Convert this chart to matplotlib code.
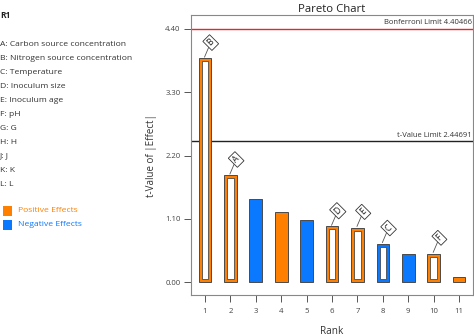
import matplotlib
matplotlib.use("Agg")
import matplotlib.pyplot as plt
from matplotlib.patches import Rectangle

plt.rcParams['font.family'] = ['Open Sans', 'DejaVu Sans']

ranks = [1, 2, 3, 4, 5, 6, 7, 8, 9, 10, 11]
t_values = [3.89, 1.86, 1.44, 1.23, 1.09, 0.97, 0.95, 0.67, 0.50, 0.50, 0.087]
positive = [True, True, False, True, False, True, True, False, False, True, True]
hollow = [True, True, False, False, False, True, True, True, False, True, False]
bar_labels = ['B', 'A', '', '', '', 'D', 'E', 'C', '', 'F', '']
bonferroni = 4.40466
t_limit = 2.44691
yticks = [0.00, 1.10, 2.20, 3.30, 4.40]
factor_lines = ["A: Carbon source concentration", "B: Nitrogen source concentration",
                "C: Temperature", "D: Inoculum size", "E: Inoculum age", "F: pH",
                "G: G", "H: H", "J: J", "K: K", "L: L"]

ORANGE = '#FF8000'
BLUE = '#0A78FF'
EDGE = '#4a4a4a'

fig = plt.figure(figsize=(4.74, 3.36), dpi=100)
ax = fig.add_axes([0.403, 0.122, 0.595, 0.833])

ax.set_xlim(0.45, 11.55)
ax.set_ylim(-0.22, 4.64)

width = 0.5
dx, dy = 0.12, 0.052
for r, v, pos, h, lab in zip(ranks, t_values, positive, hollow, bar_labels):
    col = ORANGE if pos else BLUE
    ax.add_patch(Rectangle((r - width / 2, 0), width, v, facecolor=col,
                           edgecolor=EDGE, linewidth=0.7, zorder=3))
    if h:
        ax.add_patch(Rectangle((r - width / 2 + dx, dy), width - 2 * dx, v - 2 * dy,
                               facecolor='white', edgecolor=EDGE, linewidth=0.6, zorder=4))
    if lab:
        ax.annotate(lab, xy=(r - 0.02, v + 0.02), xytext=(4.5, 10.5), textcoords='offset points',
                    ha='center', va='center', rotation=45, fontsize=6.3, color='#222222',
                    bbox=dict(boxstyle='square,pad=0.22', facecolor='white',
                              edgecolor='#333333', linewidth=0.6),
                    arrowprops=dict(arrowstyle='-', color='#555555', linewidth=0.6,
                                    shrinkA=0, shrinkB=0), zorder=5)

ax.axhline(bonferroni, color='#E8262A', linewidth=1.0, zorder=2)
ax.axhline(t_limit, color='#222222', linewidth=1.0, zorder=2)
ax.text(11.5, bonferroni + 0.05, f"Bonferroni Limit {bonferroni}", ha='right', va='bottom',
        fontsize=5.5, color='#333333')
ax.text(11.5, t_limit + 0.05, f"t-Value Limit {t_limit}", ha='right', va='bottom',
        fontsize=5.5, color='#333333')

ax.set_xticks(ranks)
ax.set_xticklabels([str(r) for r in ranks])
ax.set_yticks(yticks)
ax.set_yticklabels([f"{y:.2f}" for y in yticks])
ax.tick_params(axis='both', colors='#555555', labelcolor='#444444', labelsize=5.6,
               length=5, width=0.7, direction='out')
ax.tick_params(axis='x', pad=4)
ax.tick_params(axis='y', pad=2.5)
for s in ax.spines.values():
    s.set_color('#888888')
    s.set_linewidth(0.8)

ax.set_title("Pareto Chart", fontsize=8.2, color='#222222', pad=2.5)
ax.set_xlabel("Rank", fontsize=7.2, color='#333333', labelpad=8)
ax.set_ylabel("t-Value of |Effect|", fontsize=7, color='#333333', labelpad=6)

# left panel
fig.text(0.0, 1 - 16 / 336, "R1", fontsize=6.0, fontweight='bold', color='#222222',
         ha='left', va='center')
for i, line in enumerate(factor_lines):
    fig.text(0.0, 1 - (44 + i * 14.0) / 336, line, fontsize=6.1, color='#333333',
             ha='left', va='center')
fig.patches.append(Rectangle((3 / 474, 1 - 216 / 336), 9 / 474, 10 / 336,
                             transform=fig.transFigure, facecolor=ORANGE, edgecolor='none'))
fig.patches.append(Rectangle((3 / 474, 1 - 230 / 336), 9 / 474, 10 / 336,
                             transform=fig.transFigure, facecolor=BLUE, edgecolor='none'))
fig.text(18 / 474, 1 - 211 / 336, "Positive Effects", fontsize=6.1, color=ORANGE,
         ha='left', va='center')
fig.text(18 / 474, 1 - 225 / 336, "Negative Effects", fontsize=6.1, color=BLUE,
         ha='left', va='center')

fig.savefig("out.png", dpi=100)
